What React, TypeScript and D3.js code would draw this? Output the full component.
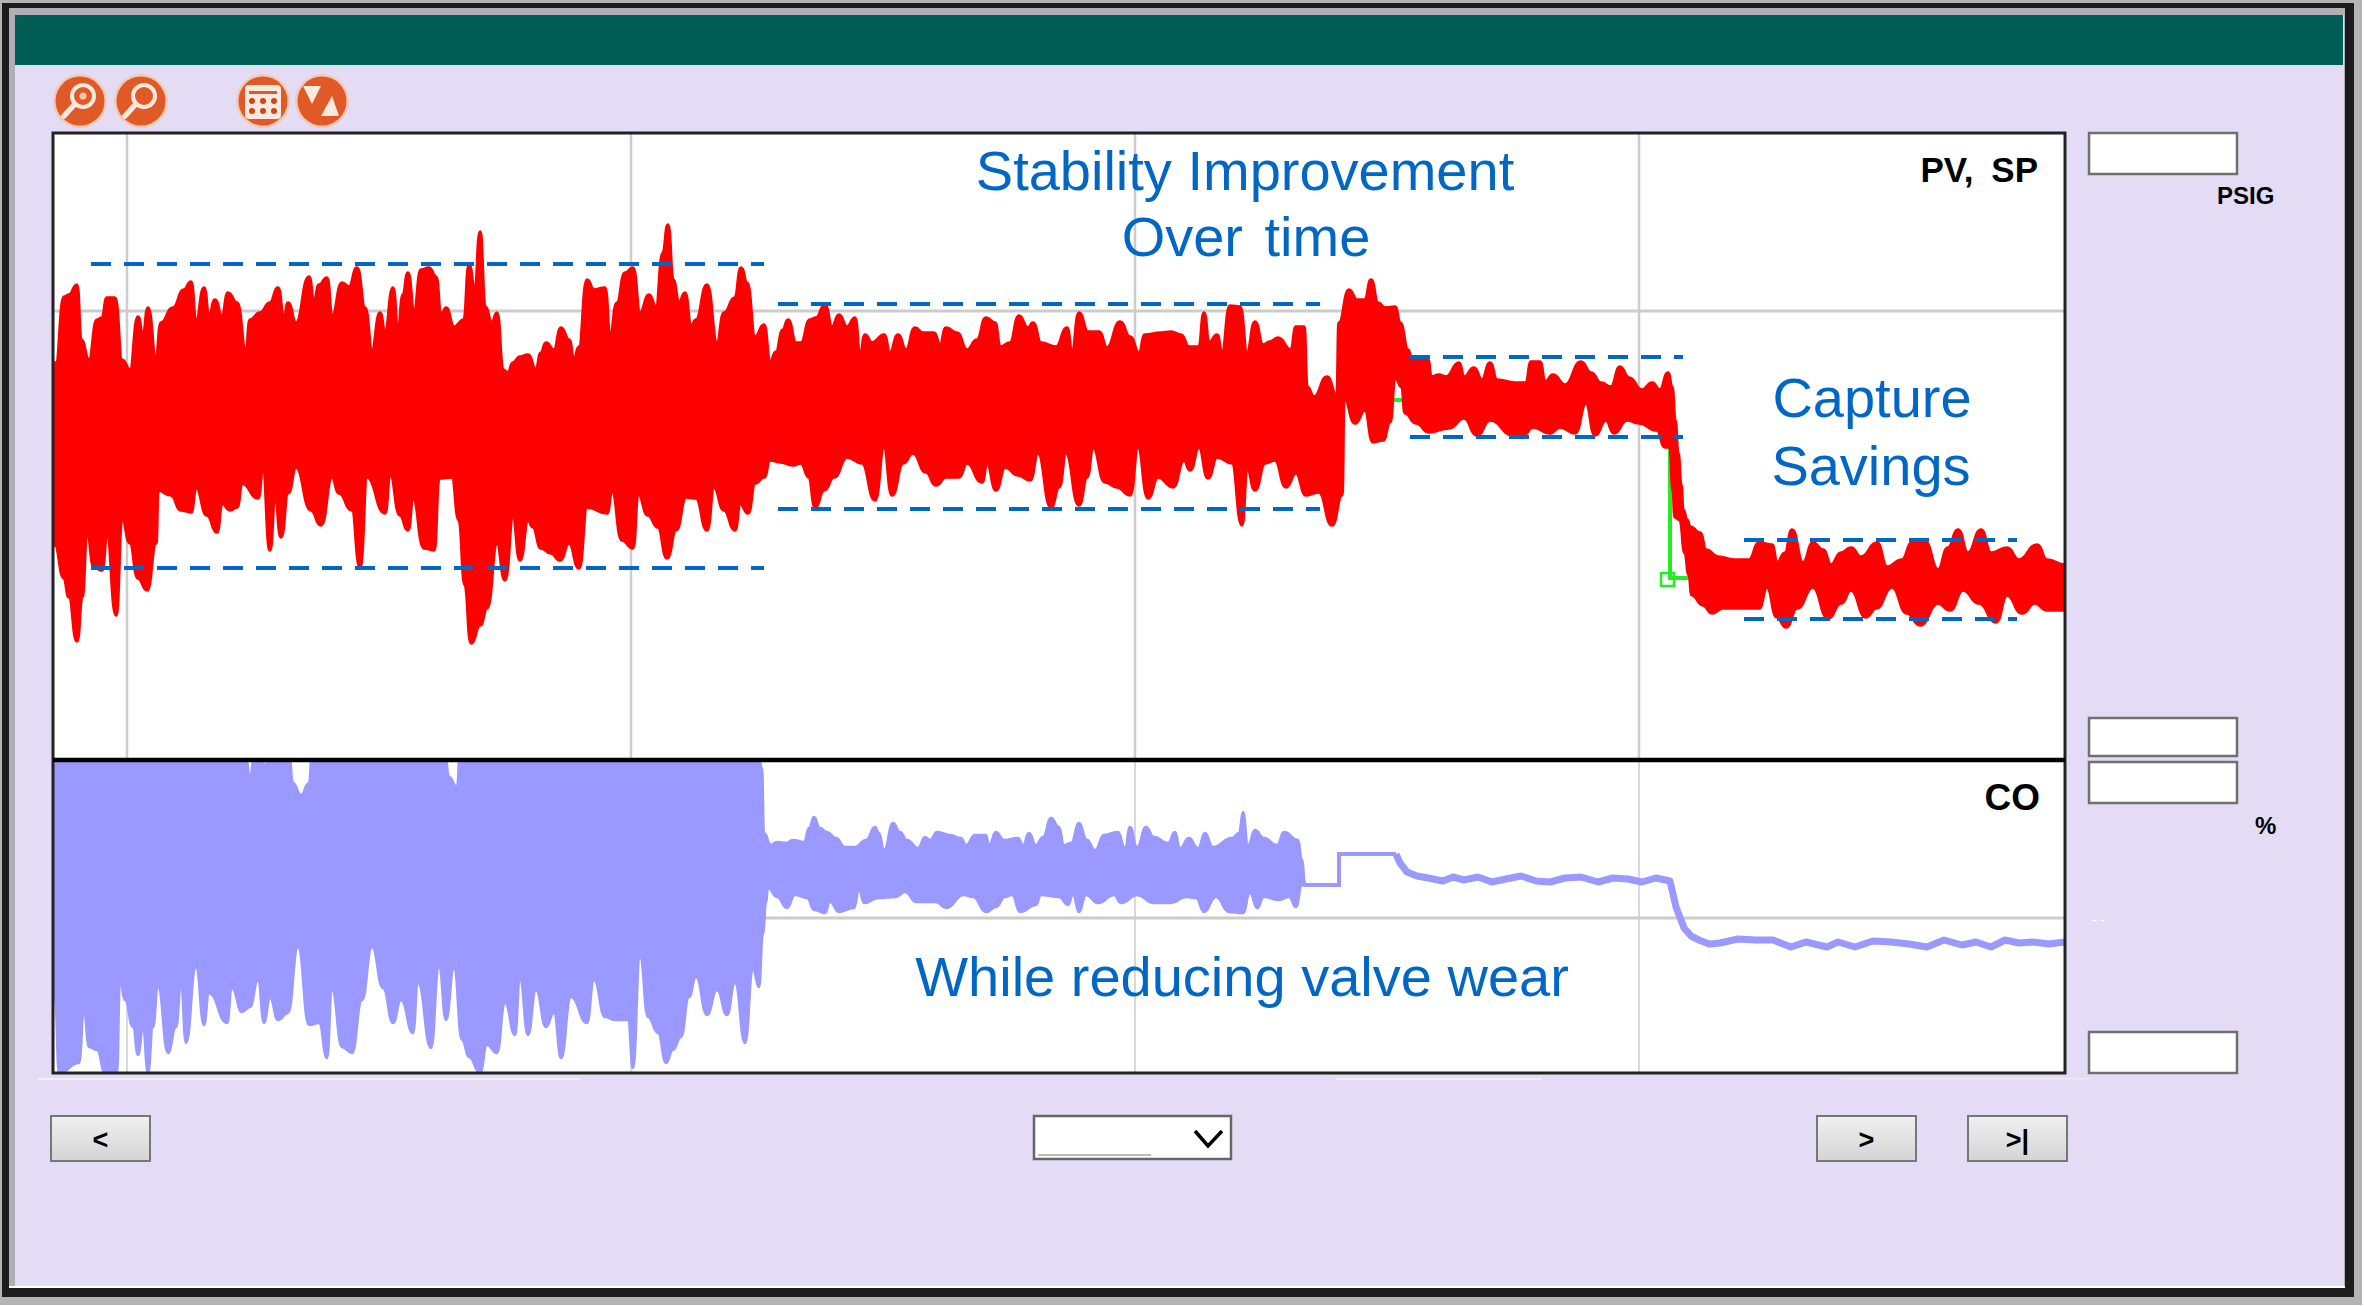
import React from "react";
import * as d3 from "d3";

type Pt = [number, number];

// time axis: samples from the left edge of the trend, 504 samples per grid division
const gridTimes = [74, 578, 1082, 1586];
const pvGridValues = [449];
const coGridValues = [155];

// PV band, upper edge
const pvUpper: Pt[] = [
  [0, 397], [3, 397], [11, 463], [16, 465], [24, 475], [28, 420], [36, 400], [44, 440], [49, 442], [54, 462], [62, 462], [69, 400],
  [77, 390], [85, 443], [90, 423], [95, 452], [103, 400], [108, 437], [120, 452], [131, 470], [138, 478], [143, 437], [151, 472],
  [156, 443], [162, 460], [169, 443], [175, 467], [184, 457], [193, 407], [197, 440], [207, 447], [217, 457], [225, 472], [231, 440],
  [235, 457], [243, 437], [256, 483], [261, 457], [266, 475], [274, 482], [279, 443], [289, 477], [296, 473], [304, 492], [312, 452],
  [319, 410], [327, 447], [332, 427], [340, 472], [345, 427], [350, 465], [355, 487], [361, 447], [368, 490], [376, 492], [383, 483],
  [388, 443], [393, 452], [401, 433], [411, 440], [416, 495], [422, 468], [427, 528], [432, 453], [439, 437], [444, 447], [450, 390],
  [455, 387], [460, 397], [467, 403], [475, 405], [483, 390], [488, 407], [493, 417], [501, 410], [508, 432], [516, 420], [521, 400],
  [526, 413], [534, 480], [541, 470], [552, 472], [557, 423], [564, 457], [572, 487], [580, 492], [587, 447], [596, 465], [603, 453],
  [610, 507], [615, 535], [620, 480], [626, 457], [632, 467], [638, 433], [643, 440], [654, 475], [664, 417], [671, 447], [682, 462],
  [688, 492], [694, 477], [702, 423], [711, 435], [717, 397], [723, 408], [730, 430], [735, 440], [743, 417], [748, 417], [757, 440],
  [763, 442], [772, 455], [779, 433], [786, 445], [794, 433], [802, 442], [807, 403], [812, 425], [819, 417], [831, 425], [837, 407],
  [845, 425], [853, 410], [862, 432], [870, 427], [881, 427], [887, 415], [893, 432], [904, 427], [914, 410], [924, 420], [933, 442],
  [942, 437], [947, 413], [957, 417], [966, 444], [975, 432], [980, 437], [988, 417], [1003, 413], [1014, 432], [1019, 407], [1026, 447],
  [1035, 428], [1046, 428], [1054, 412], [1067, 438], [1077, 423], [1086, 407], [1092, 425], [1108, 427], [1118, 428], [1128, 425],
  [1136, 413], [1146, 413], [1151, 447], [1156, 417], [1164, 425], [1169, 407], [1177, 454], [1187, 453], [1194, 407], [1202, 438],
  [1210, 415], [1217, 418], [1225, 422], [1238, 410], [1243, 433], [1251, 433], [1254, 373], [1261, 363], [1274, 383], [1284, 363],
  [1286, 437], [1296, 470], [1304, 460], [1312, 460], [1318, 480], [1325, 457], [1332, 452], [1342, 453], [1347, 437], [1355, 410],
  [1358, 403], [1368, 402], [1375, 400], [1378, 383], [1386, 385], [1393, 383], [1406, 397], [1411, 383], [1421, 392], [1429, 380],
  [1437, 397], [1444, 380], [1462, 377], [1473, 377], [1478, 398], [1487, 398], [1492, 378], [1500, 385], [1512, 375], [1528, 398],
  [1538, 387], [1548, 377], [1558, 373], [1567, 393], [1576, 382], [1589, 370], [1599, 377], [1607, 370], [1615, 387], [1619, 373],
  [1622, 340], [1625, 307], [1628, 275], [1630, 250], [1634, 240], [1637, 233], [1647, 227], [1653, 210], [1665, 203], [1681, 200], [1696, 200], [1706, 217], [1719, 215],
  [1724, 197], [1732, 207], [1739, 230], [1750, 197], [1760, 217], [1770, 210], [1778, 195], [1788, 207], [1798, 212], [1808, 203],
  [1824, 217], [1834, 193], [1849, 200], [1859, 217], [1872, 218], [1885, 190], [1895, 212], [1905, 230], [1915, 207], [1928, 230],
  [1938, 207], [1954, 212], [1966, 200], [1984, 215], [1994, 200], [2012, 195],
];

// PV band, lower edge
const pvLower: Pt[] = [
  [0, 215], [2, 215], [11, 182], [16, 163], [24, 119], [29, 163], [34, 230], [41, 193], [49, 190], [54, 227], [63, 145], [69, 243],
  [77, 217], [85, 182], [94, 170], [103, 217], [105, 270], [118, 265], [128, 250], [138, 248], [143, 273], [154, 245], [164, 228],
  [169, 257], [177, 250], [184, 253], [189, 277], [205, 262], [210, 293], [217, 210], [222, 267], [228, 223], [235, 267], [243, 293],
  [258, 250], [268, 235], [279, 283], [286, 267], [299, 250], [307, 193], [314, 283], [332, 247], [337, 287], [347, 245], [355, 230],
  [360, 263], [371, 212], [381, 210], [386, 282], [399, 283], [406, 240], [412, 175], [418, 117], [427, 135], [434, 152], [444, 217],
  [452, 180], [460, 243], [467, 200], [475, 240], [480, 233], [488, 212], [498, 207], [507, 200], [516, 217], [526, 192], [534, 253],
  [554, 247], [559, 270], [569, 220], [580, 212], [585, 267], [595, 245], [605, 233], [614, 202], [623, 230], [633, 263], [643, 262],
  [654, 230], [661, 273], [671, 250], [682, 230], [687, 257], [695, 247], [702, 277], [711, 283], [717, 300], [727, 298], [740, 295],
  [748, 297], [756, 283], [762, 253], [771, 270], [781, 283], [794, 303], [809, 297], [822, 260], [831, 313], [839, 265], [850, 297],
  [860, 307], [873, 288], [883, 275], [893, 283], [906, 283], [914, 297], [929, 278], [934, 297], [943, 270], [952, 293], [965, 285],
  [977, 280], [985, 307], [998, 253], [1006, 273], [1013, 307], [1026, 255], [1034, 283], [1040, 313], [1052, 278], [1064, 273],
  [1077, 265], [1085, 313], [1095, 262], [1105, 283], [1120, 273], [1131, 300], [1137, 290], [1146, 313], [1155, 282], [1164, 303],
  [1179, 297], [1189, 235], [1194, 293], [1202, 270], [1212, 297], [1222, 300], [1233, 273], [1243, 287], [1253, 265], [1266, 268],
  [1279, 235], [1289, 265], [1291, 363], [1302, 337], [1312, 350], [1320, 318], [1330, 320], [1337, 338], [1342, 383], [1349, 373],
  [1352, 347], [1363, 337], [1376, 328], [1396, 332], [1411, 342], [1424, 325], [1437, 340], [1460, 325], [1470, 325], [1480, 333],
  [1497, 327], [1507, 333], [1522, 327], [1533, 357], [1542, 325], [1553, 340], [1561, 327], [1574, 340], [1586, 337], [1604, 330],
  [1612, 313], [1617, 313], [1620, 270], [1622, 243], [1627, 240], [1632, 207], [1636, 185], [1639, 165], [1650, 155], [1659, 147], [1670, 152], [1686, 152], [1706, 152],
  [1714, 173], [1724, 143], [1733, 133], [1744, 152], [1760, 173], [1775, 142], [1788, 157], [1798, 170], [1813, 143], [1823, 152],
  [1839, 173], [1854, 147], [1867, 135], [1885, 157], [1897, 150], [1910, 170], [1926, 157], [1943, 138], [1954, 165], [1969, 147],
  [1982, 157], [1994, 150], [2012, 150],
];

// SP trace, mostly hidden behind PV
const spLine: Pt[] = [[0, 360], [1617, 360], [1617, 182], [2012, 182]];
const spMarker: Pt = [1614, 181];

// [from, to, value] target bands drawn as dashed limits
const limitSegments: [number, number, number][] = [
  [38, 711, 496], [38, 711, 192],
  [725, 1267, 456], [725, 1267, 251],
  [1357, 1630, 403], [1357, 1630, 323],
  [1691, 1964, 220], [1691, 1964, 141],
];

// CO band, upper edge (values above the panel top are saturated)
const coUpper: Pt[] = [
  [0, 320], [66, 320], [69, 305], [72, 320], [192, 320], [197, 298], [202, 320], [209, 320], [212, 301], [215, 320], [236, 320], [240, 290],
  [248, 278], [256, 290], [259, 320], [283, 320], [284, 288], [285, 320], [317, 320], [318, 276], [319, 320], [392, 320], [396, 296],
  [404, 286], [407, 320], [474, 320], [475, 278], [476, 320], [493, 320], [495, 301], [497, 320], [519, 320], [521, 268], [523, 320],
  [540, 320], [541, 298], [542, 320], [560, 320], [562, 303], [564, 320], [658, 320], [660, 283], [662, 320], [705, 320], [709, 305],
  [711, 240], [718, 228], [724, 231], [733, 230], [740, 233], [751, 231], [756, 245], [761, 256], [767, 245], [774, 241], [783, 235],
  [792, 226], [802, 226], [813, 233], [822, 246], [826, 240], [831, 223], [840, 250], [847, 241], [854, 233], [865, 225], [872, 236],
  [877, 233], [884, 241], [897, 238], [908, 235], [913, 228], [922, 238], [933, 238], [936, 228], [943, 241], [951, 233], [965, 235],
  [970, 228], [976, 240], [983, 228], [990, 236], [998, 255], [1006, 246], [1011, 228], [1018, 230], [1026, 250], [1034, 233], [1042, 223],
  [1051, 238], [1065, 241], [1072, 225], [1077, 246], [1084, 226], [1093, 246], [1101, 236], [1115, 230], [1122, 241], [1127, 225],
  [1136, 235], [1145, 225], [1152, 240], [1160, 226], [1179, 235], [1186, 240], [1190, 261], [1195, 228], [1202, 243], [1211, 235],
  [1224, 228], [1231, 241], [1245, 233], [1249, 213], [1252, 190],
];

// CO band, lower edge
const coLower: Pt[] = [
  [0, 73], [2, 73], [6, 0], [26, 10], [31, 60], [36, 26], [44, 23], [52, 0], [64, 0], [67, 93], [72, 73], [80, 46], [85, 18], [90, 43],
  [95, 0], [100, 46], [105, 86], [115, 20], [123, 46], [128, 86], [133, 30], [143, 106], [151, 48], [156, 80], [174, 50], [179, 85],
  [189, 61], [197, 66], [205, 93], [211, 50], [217, 75], [225, 53], [235, 60], [245, 126], [256, 48], [266, 50], [274, 15], [279, 83],
  [289, 26], [299, 20], [309, 73], [319, 126], [330, 85], [340, 50], [348, 73], [360, 40], [365, 90], [378, 25], [386, 106], [393, 53],
  [401, 105], [409, 33], [416, 16], [427, 0], [434, 28], [444, 20], [452, 70], [462, 38], [467, 93], [475, 38], [483, 83], [493, 46],
  [501, 60], [508, 15], [518, 76], [534, 50], [541, 93], [552, 56], [562, 53], [575, 53], [580, 5], [587, 116], [595, 56], [605, 40],
  [613, 10], [620, 23], [628, 36], [636, 76], [643, 96], [654, 58], [664, 83], [674, 58], [682, 90], [692, 30], [700, 103], [706, 86],
  [710, 140], [713, 170], [715, 185], [724, 176], [734, 165], [742, 178], [754, 175], [761, 163], [772, 160], [777, 171], [786, 161],
  [801, 165], [806, 183], [811, 170], [826, 175], [843, 176], [852, 181], [863, 171], [883, 171], [893, 165], [911, 178], [920, 176],
  [933, 161], [943, 166], [952, 176], [959, 178], [967, 161], [983, 168], [988, 178], [1006, 176], [1015, 168], [1020, 178], [1026, 161],
  [1033, 178], [1045, 170], [1061, 178], [1068, 170], [1084, 178], [1101, 170], [1118, 170], [1133, 176], [1143, 175], [1151, 161],
  [1163, 176], [1176, 161], [1190, 160], [1197, 180], [1204, 165], [1211, 176], [1226, 173], [1236, 176], [1243, 166], [1249, 188], [1252, 188],
];

// CO parked at its last output before the loop was retuned
const coHeld: Pt[] = [[1250, 188], [1286, 188], [1286, 219], [1343, 219]];

// CO after the band collapses to a single trace
const coTrace: Pt[] = [
  [1343, 219], [1347, 210], [1354, 201], [1364, 197], [1375, 195], [1390, 192], [1400, 196], [1411, 193], [1425, 196], [1439, 191], [1453, 194],
  [1468, 197], [1483, 192], [1497, 191], [1512, 195], [1528, 196], [1545, 191], [1560, 195], [1575, 194], [1589, 191], [1603, 195], [1617, 192],
  [1623, 166], [1631, 145], [1638, 137], [1646, 133], [1656, 129], [1667, 130], [1685, 134], [1703, 133], [1720, 133], [1738, 126],
  [1753, 131], [1774, 126], [1785, 131], [1802, 126], [1820, 132], [1838, 131], [1856, 129], [1874, 126], [1891, 133], [1909, 128], [1923, 131], [1938, 126],
  [1952, 133], [1966, 130], [1980, 131], [1996, 129], [2012, 131],
];

const W = 2364;
const H = 1307;
const plot = { left: 53, right: 2065, top: 133, mid: 760, bottom: 1073 };

const x = d3.scaleLinear().domain([0, 2012]).range([plot.left, plot.right]);
const yPV = d3.scaleLinear().domain([0, 627]).range([plot.mid, plot.top]);
const yCO = d3.scaleLinear().domain([0, 313]).range([plot.bottom, plot.mid]);

const pvLine = d3.line<Pt>().x((d) => x(d[0])).y((d) => yPV(d[1]));
const coLine = d3.line<Pt>().x((d) => x(d[0])).y((d) => yCO(d[1]));
// band edges: flat at each reading with steep sides between them
const pvBand = d3.line<Pt>().x((d) => x(d[0])).y((d) => yPV(d[1])).curve(d3.curveBumpX);
const coBand = d3.line<Pt>().x((d) => x(d[0])).y((d) => yCO(d[1])).curve(d3.curveBumpX);

const RED = "#FF0000";
const PURPLE = "#9999FF";
const GREEN = "#22EE22";
const BLUE = "#0068C4";
const LILAC = "#E4DCF4";
const GRID = "#CCCCCC";
const SANS = "'Liberation Sans', Arial, sans-serif";

const Button: React.FC<{ x0: number; x1: number; label: string }> = ({ x0, x1, label }) => (
  <g>
    <rect x={x0} y={1116} width={x1 - x0} height={45} fill="url(#btn)" stroke="#777" strokeWidth={2} />
    <text x={(x0 + x1) / 2} y={1149} textAnchor="middle" fontFamily={SANS} fontWeight="bold" fontSize={27}>
      {label}
    </text>
  </g>
);

const InputBox: React.FC<{ y0: number; y1: number }> = ({ y0, y1 }) => (
  <rect x={2089} y={y0} width={148} height={y1 - y0} fill="#fff" stroke="#707070" strokeWidth={2.5} />
);

const Badge: React.FC<{ cx: number; children?: React.ReactNode }> = ({ cx, children }) => (
  <g transform={`translate(${cx},101)`}>
    <circle r={27} fill="#F3C9B4" />
    <circle r={24.5} fill="#E05A27" />
    {children}
  </g>
);

const Magnifier: React.FC<{ dot: string }> = ({ dot }) => (
  <g>
    <circle cx={3} cy={-5} r={11} fill="none" stroke="#FBE9DF" strokeWidth={4} />
    <circle cx={3} cy={-5} r={3.5} fill={dot} />
    <line x1={-6} y1={4} x2={-16} y2={15} stroke="#FBE9DF" strokeWidth={5.5} strokeLinecap="round" />
  </g>
);

const App: React.FC = () => {
  const calendarDots = d3.cross([-11, 0, 11], [0, 10]);

  return (
    <svg
      width={W}
      height={H}
      viewBox={`0 0 ${W} ${H}`}
      style={{ position: "fixed", left: 0, top: 0, display: "block", background: "#fff" }}
    >
      <defs>
        <linearGradient id="btn" x1="0" y1="0" x2="0" y2="1">
          <stop offset="0" stopColor="#F0F0F0" />
          <stop offset="1" stopColor="#D4D4D4" />
        </linearGradient>
        <filter id="soft" x="-1%" y="-5%" width="102%" height="110%">
          <feGaussianBlur stdDeviation="0.7" />
        </filter>
        <clipPath id="clip-pv">
          <rect x={plot.left} y={plot.top} width={plot.right - plot.left} height={plot.mid - plot.top} />
        </clipPath>
        <clipPath id="clip-co">
          <rect x={plot.left} y={plot.mid} width={plot.right - plot.left} height={plot.bottom - plot.mid} />
        </clipPath>
      </defs>

      {/* window frame */}
      <rect x={0} y={0} width={2362} height={1305} fill="#B4B4B4" />
      <rect x={2} y={3} width={2352} height={1294} fill="#1C1C1C" />
      <rect x={9} y={8} width={2336} height={1280} fill="#B3AEB5" />
      <rect x={15} y={15} width={2329} height={1273} fill={LILAC} />
      <rect x={9} y={1286} width={2336} height={2} fill="#FFFFFF" />
      <rect x={15} y={15} width={2328} height={50} fill="#005E57" />
      <rect x={15} y={65} width={2328} height={1.5} fill="#BFE8E8" />

      {/* toolbar */}
      <Badge cx={80}><Magnifier dot="#F6C7AE" /></Badge>
      <Badge cx={141}><Magnifier dot="#E05A27" /></Badge>
      <Badge cx={263}>
        <rect x={-18} y={-16} width={36} height={34} rx={4} fill="#FBE9DF" />
        <rect x={-14} y={-10} width={28} height={3} fill="#E05A27" />
        {calendarDots.map(([dx, dy]) => (
          <circle key={`${dx}-${dy}`} cx={dx} cy={dy} r={3} fill="#C9481F" />
        ))}
      </Badge>
      <Badge cx={322}>
        <path d="M-19,-15 L-1,-15 L-10,3 Z" fill="#FBE9DF" />
        <path d="M17,15 L-1,15 L10,-5 Z" fill="#FBE9DF" />
      </Badge>

      {/* plot backgrounds and grid */}
      <rect x={plot.left} y={plot.top} width={plot.right - plot.left} height={plot.bottom - plot.top} fill="#fff" />
      {gridTimes.map((t) => (
        <g key={t}>
          <line x1={x(t)} x2={x(t)} y1={plot.top} y2={plot.mid} stroke={GRID} strokeWidth={2.5} />
          <line x1={x(t)} x2={x(t)} y1={plot.mid} y2={plot.bottom} stroke={GRID} strokeWidth={1.5} />
        </g>
      ))}
      {pvGridValues.map((v) => (
        <line key={v} x1={plot.left} x2={plot.right} y1={yPV(v)} y2={yPV(v)} stroke={GRID} strokeWidth={3} />
      ))}
      {coGridValues.map((v) => (
        <line key={v} x1={plot.left} x2={plot.right} y1={yCO(v)} y2={yCO(v)} stroke={GRID} strokeWidth={3} />
      ))}

      {/* PV, SP */}
      <g clipPath="url(#clip-pv)">
        <path d={pvLine(spLine) ?? ""} fill="none" stroke={GREEN} strokeWidth={4} />
        <rect
          x={x(spMarker[0]) - 6}
          y={yPV(spMarker[1]) - 6}
          width={13}
          height={13}
          fill="none"
          stroke={GREEN}
          strokeWidth={2.5}
        />
        <path
          d={(pvBand([...pvUpper, ...[...pvLower].reverse()]) ?? "") + "Z"}
          fill={RED}
          stroke={RED}
          strokeWidth={3.5}
          strokeLinejoin="round"
          filter="url(#soft)"
        />
      </g>

      {/* CO */}
      <g clipPath="url(#clip-co)">
        <path
          d={(coBand([...coUpper, ...[...coLower].reverse()]) ?? "") + "Z"}
          fill={PURPLE}
          stroke={PURPLE}
          strokeWidth={2.5}
          strokeLinejoin="round"
          filter="url(#soft)"
        />
        <path d={coLine(coHeld) ?? ""} fill="none" stroke={PURPLE} strokeWidth={4} />
        <path d={coLine(coTrace) ?? ""} fill="none" stroke={PURPLE} strokeWidth={7} strokeLinejoin="round" />
      </g>

      {/* target bands */}
      {limitSegments.map(([from, to, v]) => (
        <line
          key={`${from}-${v}`}
          x1={x(from)}
          x2={x(to)}
          y1={yPV(v)}
          y2={yPV(v)}
          stroke={BLUE}
          strokeWidth={4}
          strokeDasharray="20 13"
        />
      ))}

      {/* plot borders */}
      <rect
        x={plot.left}
        y={plot.top}
        width={plot.right - plot.left}
        height={plot.bottom - plot.top}
        fill="none"
        stroke="#222"
        strokeWidth={3}
      />
      <line x1={plot.left} x2={plot.right} y1={plot.mid} y2={plot.mid} stroke="#000" strokeWidth={4.5} />
      <rect x={38} y={1078} width={543} height={2} fill="#F4EFFB" />
      <rect x={1335} y={1078} width={207} height={2} fill="#F4EFFB" />
      <rect x={1841} y={1078} width={249} height={1.5} fill="#F0EAF8" />

      {/* annotations */}
      <g fontFamily={SANS} fill={BLUE} fontSize={56}>
        <text x={1245} y={190} textAnchor="middle">Stability Improvement</text>
        <text x={1246} y={256} textAnchor="middle" wordSpacing={6}>Over time</text>
        <text x={1872} y={417} textAnchor="middle">Capture</text>
        <text x={1871} y={485} textAnchor="middle">Savings</text>
        <text x={1242} y={996} textAnchor="middle">While reducing valve wear</text>
      </g>
      <g fontFamily={SANS} fontWeight="bold" fill="#000">
        <text x={2038} y={182} textAnchor="end" fontSize={35} wordSpacing={8}>PV, SP</text>
        <text x={2040} y={810} textAnchor="end" fontSize={37}>CO</text>
        <text x={2217} y={204} fontSize={24}>PSIG</text>
        <text x={2255} y={834} fontSize={24}>%</text>
      </g>

      {/* side value boxes */}
      <InputBox y0={133} y1={174} />
      <InputBox y0={718} y1={756} />
      <InputBox y0={762} y1={803} />
      <InputBox y0={1032} y1={1073} />
      <text x={2092} y={925} fontFamily={SANS} fontSize={14} fill="#fff">- -</text>

      {/* navigation */}
      <Button x0={51} x1={150} label="<" />
      <g>
        <rect x={1034} y={1116} width={197} height={43} fill="#fff" stroke="#666" strokeWidth={2.5} />
        <line x1={1038} x2={1151} y1={1155} y2={1155} stroke="#BBB" strokeWidth={2} />
        <path d="M1195,1131 L1208,1146 L1222,1131" fill="none" stroke="#000" strokeWidth={3.5} />
      </g>
      <Button x0={1817} x1={1916} label=">" />
      <Button x0={1968} x1={2067} label=">|" />
    </svg>
  );
};

export default App;
